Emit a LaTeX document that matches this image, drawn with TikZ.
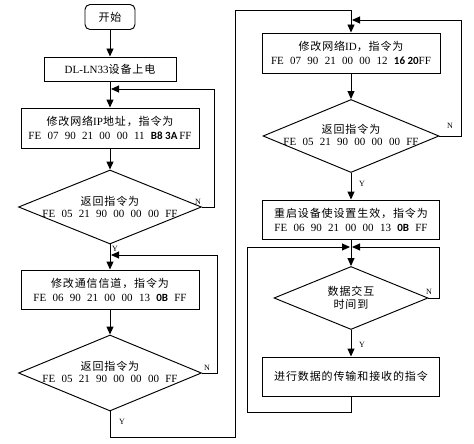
\documentclass[tikz,border=0pt]{standalone}
\usepackage{fontspec}
\setmainfont{Liberation Serif}
\newfontfamily\cn[LetterSpace=8]{Noto Sans CJK SC}
\newfontfamily\bx{Carlito}
\usetikzlibrary{shapes.geometric,arrows.meta}
\newcommand\g{\hspace{6.3pt}}
\begin{document}
\begin{tikzpicture}[x=1pt,y=-1pt,
  line width=0.95pt,
  box/.style={draw, rectangle, inner sep=0pt, align=center, font=\fontsize{11}{14}\selectfont},
  dia/.style={draw, diamond, inner sep=0pt},
  dtxt/.style={inner sep=0pt, align=center, font=\fontsize{11}{11.5}\selectfont},
  arr/.style={-{Triangle[length=8pt,width=7pt]}},
  lbl/.style={font=\fontsize{8}{8}\selectfont, inner sep=0pt}
]
\useasboundingbox (0,0) rectangle (474,444);
% left column
\node[box, rounded corners=5pt, minimum width=50pt, minimum height=25pt] (start) at (110,17) {\cn 开始};
\node[box, minimum width=132pt, minimum height=24pt] (power) at (110,69) {DL-LN33{\cn 设备上电}};
\node[box, minimum width=178pt, minimum height=40pt] (ip) at (110,128)
  {{\cn 修改网络}IP{\cn 地址，指令为}\\FE\g 07\g 90\g 21\g 00\g 00\g 11\g {\bx\bfseries B8 3A}\,FF};
\node[dia, minimum width=183pt, minimum height=74pt] (d1) at (110,207) {};
\node[dtxt] (d1t) at (110,207) {{\cn 返回指令为}\\FE\g 05\g 21\g 90\g 00\g 00\g 00\g FF};
\node[box, minimum width=178pt, minimum height=39pt] (ch) at (110,289.5)
  {{\cn 修改通信信道，指令为}\\FE\g 06\g 90\g 21\g 00\g 00\g 13\g {\bx\bfseries 0B}\g FF};
\node[dia, minimum width=183pt, minimum height=76pt] (d2) at (110,373) {};
\node[dtxt] (d2t) at (110,372) {{\cn 返回指令为}\\FE\g 05\g 21\g 90\g 00\g 00\g 00\g FF};
% right column
\node[box, minimum width=178pt, minimum height=40pt] (id) at (351,53)
  {{\cn 修改网络}ID{\cn ，指令为}\\FE\g 07\g 90\g 21\g 00\g 00\g 12\g {\bx\bfseries 16 20}FF};
\node[dia, minimum width=176pt, minimum height=73pt] (d3) at (351,136) {};
\node[dtxt] (d3t) at (351,135) {{\cn 返回指令为}\\FE\g 05\g 21\g 90\g 00\g 00\g 00\g FF};
\node[box, minimum width=177pt, minimum height=39pt] (rs) at (351,219.5)
  {{\cn 重启设备使设置生效，指令为}\\FE\g 06\g 90\g 21\g 00\g 00\g 13\g {\bx\bfseries 0B}\g FF};
\node[dia, minimum width=154pt, minimum height=63pt] (d4) at (351,298) {};
\node[dtxt, font=\fontsize{11}{13}\selectfont] (d4t) at (351,297.5) {{\cn 数据交互}\\{\cn 时间到}};
\node[box, minimum width=177pt, minimum height=39pt] (data) at (351,376.5) {\cn 进行数据的传输和接收的指令};
% labels
\node[lbl] (n1) at (198,202) {N};
\node[lbl] (y1) at (115,249) {Y};
\node[lbl] (n2) at (207,368) {N};
\node[lbl] (y2) at (122,422) {Y};
\node[lbl] (n3) at (450,126) {N};
\node[lbl] (y3) at (362,184) {Y};
\node[lbl] (n4) at (429,292) {N};
\node[lbl] (y4) at (362,345) {Y};
% junctions
\coordinate (j1) at (111,89);
\coordinate (j2) at (111,255);
\coordinate (j3) at (352,20);
\coordinate (j4r) at (352,247);
\coordinate (j4l) at (350,247);
\coordinate (c1) at (235,437);
\coordinate (c2) at (235,10);
\coordinate (c3) at (247,412);
% connectors
\draw[arr] (start) -- (power);
\draw[arr] (power) -- (ip);
\draw[arr] (ip) -- (d1);
\draw[arr] (d1.east) -- ++(12,0) |- (j1);
\draw[arr] (d1) -- (ch);
\draw[arr] (ch) -- (d2);
\draw[arr] (d2.east) -- ++(15.5,0) |- (j2);
\draw[arr] (d2.south) |- (c1) -- (c2) -| (id.north);
\draw[arr] (id) -- (d3);
\draw[arr] (d3.east) -- ++(22,0) |- (j3);
\draw[arr] (d3) -- (rs);
\draw[arr] (rs) -- (d4);
\draw[arr] (d4.east) -- ++(11,0) |- (j4r);
\draw[arr] (data.south) |- (c3) |- (j4l);
\draw[arr] (d4) -- (data);
\end{tikzpicture}
\end{document}
